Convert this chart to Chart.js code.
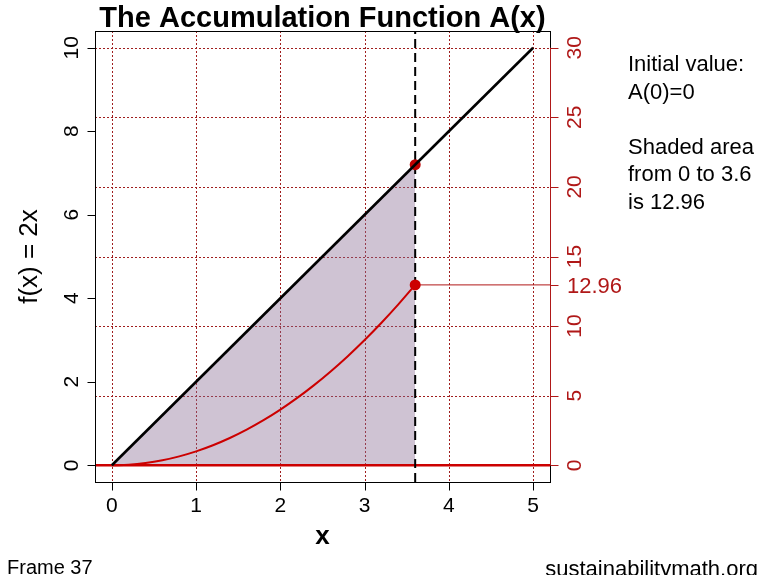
<!DOCTYPE html>
<html>
<head>
<meta charset="utf-8">
<script src="https://cdn.jsdelivr.net/npm/chart.js@4/dist/chart.umd.min.js"></script>
<style>
html,body{margin:0;padding:0;background:#fff;}
#c{display:block;}
</style>
</head>
<body>
<canvas id="c" width="768" height="575"></canvas>
<script>
// ---- data ----
const xTicks = [0, 1, 2, 3, 4, 5];
const leftTicks = [0, 2, 4, 6, 8, 10];
const rightTicks = [0, 5, 10, 15, 20, 25, 30];
const fX = [0, 5];
const fY = [0, 10];
const aX = [0, 0.2, 0.4, 0.6, 0.8, 1.0, 1.2, 1.4, 1.6, 1.8, 2.0, 2.2, 2.4, 2.6, 2.8, 3.0, 3.2, 3.4, 3.6];
const aY = [0, 0.04, 0.16, 0.36, 0.64, 1.0, 1.44, 1.96, 2.56, 3.24, 4.0, 4.84, 5.76, 6.76, 7.84, 9.0, 10.24, 11.56, 12.96];
const shadeX = [0, 3.6];
const shadeY = [0, 7.2];
const markX = 3.6;
const markF = 7.2;
const markA = 12.96;
const markALabel = "12.96";
const titleText = "The Accumulation Function A(x)";
const yLabel = "f(x) = 2x";
const xLabel = "x";
const sideText = ["Initial value:", "A(0)=0", "", "Shaded area", "from 0 to 3.6", "is 12.96"];
const frameText = "Frame 37";
const siteText = "sustainabilitymath.org";

const X_MIN = -0.2, X_MAX = 5.2;
const YL_MIN = -0.4, YL_MAX = 10.4;
const YR_MIN = -1.2, YR_MAX = 31.2;

const RED = '#cc0000';
const DARKRED = '#b01818';
const GRID = 'rgb(160,30,30)';
const FONT = '"Liberation Sans", Arial, sans-serif';

function pts(xs, ys) { return xs.map((x, i) => ({x: x, y: ys[i]})); }

const overlay = {
  id: 'overlay',
  beforeDatasetsDraw(chart) {
    const ctx = chart.ctx, a = chart.chartArea;
    const sx = chart.scales.x, sr = chart.scales.y2;
    ctx.save();
    ctx.strokeStyle = GRID;
    ctx.lineWidth = 1;
    ctx.setLineDash([2, 2]);
    xTicks.forEach(v => {
      const px = Math.round(sx.getPixelForValue(v)) + 0.5;
      ctx.beginPath(); ctx.moveTo(px, a.top); ctx.lineTo(px, a.bottom); ctx.stroke();
    });
    rightTicks.forEach(v => {
      const py = Math.round(sr.getPixelForValue(v)) + 0.5;
      ctx.beginPath(); ctx.moveTo(a.left, py); ctx.lineTo(a.right, py); ctx.stroke();
    });
    ctx.restore();
  },
  afterDraw(chart) {
    const ctx = chart.ctx, a = chart.chartArea;
    const sx = chart.scales.x, sl = chart.scales.y, sr = chart.scales.y2;
    ctx.save();
    ctx.setLineDash([]);
    // box
    ctx.strokeStyle = '#000';
    ctx.lineWidth = 1;
    ctx.strokeRect(Math.round(a.left) + 0.5, Math.round(a.top) + 0.5,
                   Math.round(a.right - a.left), Math.round(a.bottom - a.top));
    // right axis line (red)
    const rx = Math.round(a.right) + 0.5;
    ctx.strokeStyle = DARKRED;
    ctx.beginPath();
    ctx.moveTo(rx, sr.getPixelForValue(rightTicks[rightTicks.length - 1]));
    ctx.lineTo(rx, sr.getPixelForValue(rightTicks[0]));
    ctx.stroke();
    const TL = 8;
    // left ticks
    ctx.strokeStyle = '#000';
    ctx.fillStyle = '#000';
    ctx.font = '21px ' + FONT;
    ctx.textAlign = 'center';
    ctx.textBaseline = 'alphabetic';
    const lx = Math.round(a.left) + 0.5;
    leftTicks.forEach(v => {
      const py = Math.round(sl.getPixelForValue(v)) + 0.5;
      ctx.beginPath(); ctx.moveTo(lx - TL, py); ctx.lineTo(lx, py); ctx.stroke();
      ctx.save();
      ctx.translate(78, sl.getPixelForValue(v));
      ctx.rotate(-Math.PI / 2);
      ctx.fillText(String(v), 0, 0);
      ctx.restore();
    });
    // bottom ticks
    const by = Math.round(a.bottom) + 0.5;
    xTicks.forEach(v => {
      const px = Math.round(sx.getPixelForValue(v)) + 0.5;
      ctx.beginPath(); ctx.moveTo(px, by); ctx.lineTo(px, by + TL); ctx.stroke();
      ctx.fillText(String(v), sx.getPixelForValue(v), 512);
    });
    // right ticks
    ctx.strokeStyle = DARKRED;
    ctx.fillStyle = DARKRED;
    rightTicks.forEach(v => {
      const py = Math.round(sr.getPixelForValue(v)) + 0.5;
      ctx.beginPath(); ctx.moveTo(rx, py); ctx.lineTo(rx + TL, py); ctx.stroke();
      ctx.save();
      ctx.translate(581, sr.getPixelForValue(v));
      ctx.rotate(-Math.PI / 2);
      ctx.fillText(String(v), 0, 0);
      ctx.restore();
    });
    // 12.96 tick and label
    const my = Math.round(sr.getPixelForValue(markA)) + 0.5;
    ctx.beginPath(); ctx.moveTo(rx, my); ctx.lineTo(rx + TL, my); ctx.stroke();
    ctx.font = '22px ' + FONT;
    ctx.textAlign = 'left';
    ctx.textBaseline = 'middle';
    ctx.fillText(markALabel, 567, sr.getPixelForValue(markA) + 2);
    // title
    ctx.fillStyle = '#000';
    ctx.font = 'bold 29px ' + FONT;
    ctx.textAlign = 'center';
    ctx.textBaseline = 'alphabetic';
    ctx.fillText(titleText, (a.left + a.right) / 2, 27);
    // x label
    ctx.font = 'bold 26px ' + FONT;
    ctx.fillText(xLabel, (a.left + a.right) / 2, 544);
    // y label
    ctx.font = '26px ' + FONT;
    ctx.save();
    ctx.translate(37, (a.top + a.bottom) / 2);
    ctx.rotate(-Math.PI / 2);
    ctx.fillText(yLabel, 0, 0);
    ctx.restore();
    // side text
    ctx.font = '22px ' + FONT;
    ctx.textAlign = 'left';
    sideText.forEach((t, i) => {
      if (t) ctx.fillText(t, 628, 71 + i * 27.6);
    });
    // footers
    ctx.font = '20px ' + FONT;
    ctx.fillText(frameText, 7, 574);
    ctx.font = '22px ' + FONT;
    ctx.textAlign = 'right';
    ctx.fillText(siteText, 758, 576);
    ctx.restore();
  }
};

new Chart(document.getElementById('c'), {
  type: 'scatter',
  data: {
    datasets: [
      {
        label: 'f(x)', data: pts(fX, fY), yAxisID: 'y', showLine: true,
        borderColor: '#000', borderWidth: 2.6, pointRadius: 0, fill: false, order: 0
      },
      {
        label: 'pointF', data: [{x: markX, y: markF}], yAxisID: 'y',
        pointRadius: 5.5, pointBackgroundColor: '#c00000', pointBorderColor: '#c00000',
        borderWidth: 0, order: 1
      },
      {
        label: 'pointA', data: [{x: markX, y: markA}], yAxisID: 'y2',
        pointRadius: 5.5, pointBackgroundColor: '#cc0000', pointBorderColor: '#cc0000',
        borderWidth: 0, order: 1
      },
      {
        label: 'dash', data: [{x: markX, y: YL_MIN}, {x: markX, y: YL_MAX}], yAxisID: 'y',
        showLine: true, borderColor: '#000', borderWidth: 2, borderDash: [9, 5],
        pointRadius: 0, fill: false, order: 2
      },
      {
        label: 'A(x)', data: pts(aX, aY), yAxisID: 'y2', showLine: true,
        borderColor: RED, borderWidth: 2, pointRadius: 0, fill: false,
        cubicInterpolationMode: 'monotone', order: 3
      },
      {
        label: 'hline', data: [{x: markX, y: markA}, {x: X_MAX, y: markA}], yAxisID: 'y2',
        showLine: true, borderColor: DARKRED, borderWidth: 1, pointRadius: 0, fill: false, order: 4
      },
      {
        label: 'zero', data: [{x: X_MIN, y: 0}, {x: X_MAX, y: 0}], yAxisID: 'y',
        showLine: true, borderColor: RED, borderWidth: 2.5, pointRadius: 0, fill: false, order: 5
      },
      {
        label: 'shade', data: pts(shadeX, shadeY), yAxisID: 'y', showLine: true,
        borderWidth: 0, borderColor: 'rgba(0,0,0,0)', backgroundColor: 'rgba(135,105,145,0.4)',
        pointRadius: 0, fill: 'origin', order: 6
      }
    ]
  },
  options: {
    responsive: false,
    animation: false,
    events: [],
    layout: {padding: {top: 31, left: 0, right: 0, bottom: 0}},
    plugins: {legend: {display: false}, title: {display: false}, tooltip: {enabled: false}},
    scales: {
      x: {
        type: 'linear', position: 'bottom', min: X_MIN, max: X_MAX,
        afterBuildTicks: s => { s.ticks = xTicks.map(v => ({value: v})); },
        afterFit: s => { s.height = 93; },
        ticks: {display: false}, grid: {display: false}, border: {display: false}
      },
      y: {
        type: 'linear', position: 'left', min: YL_MIN, max: YL_MAX,
        afterBuildTicks: s => { s.ticks = leftTicks.map(v => ({value: v})); },
        afterFit: s => { s.width = 95; },
        ticks: {display: false}, grid: {display: false}, border: {display: false}
      },
      y2: {
        type: 'linear', position: 'right', min: YR_MIN, max: YR_MAX,
        afterBuildTicks: s => { s.ticks = rightTicks.map(v => ({value: v})); },
        afterFit: s => { s.width = 218; },
        ticks: {display: false}, grid: {display: false}, border: {display: false}
      }
    }
  },
  plugins: [overlay]
});
</script>
</body>
</html>
